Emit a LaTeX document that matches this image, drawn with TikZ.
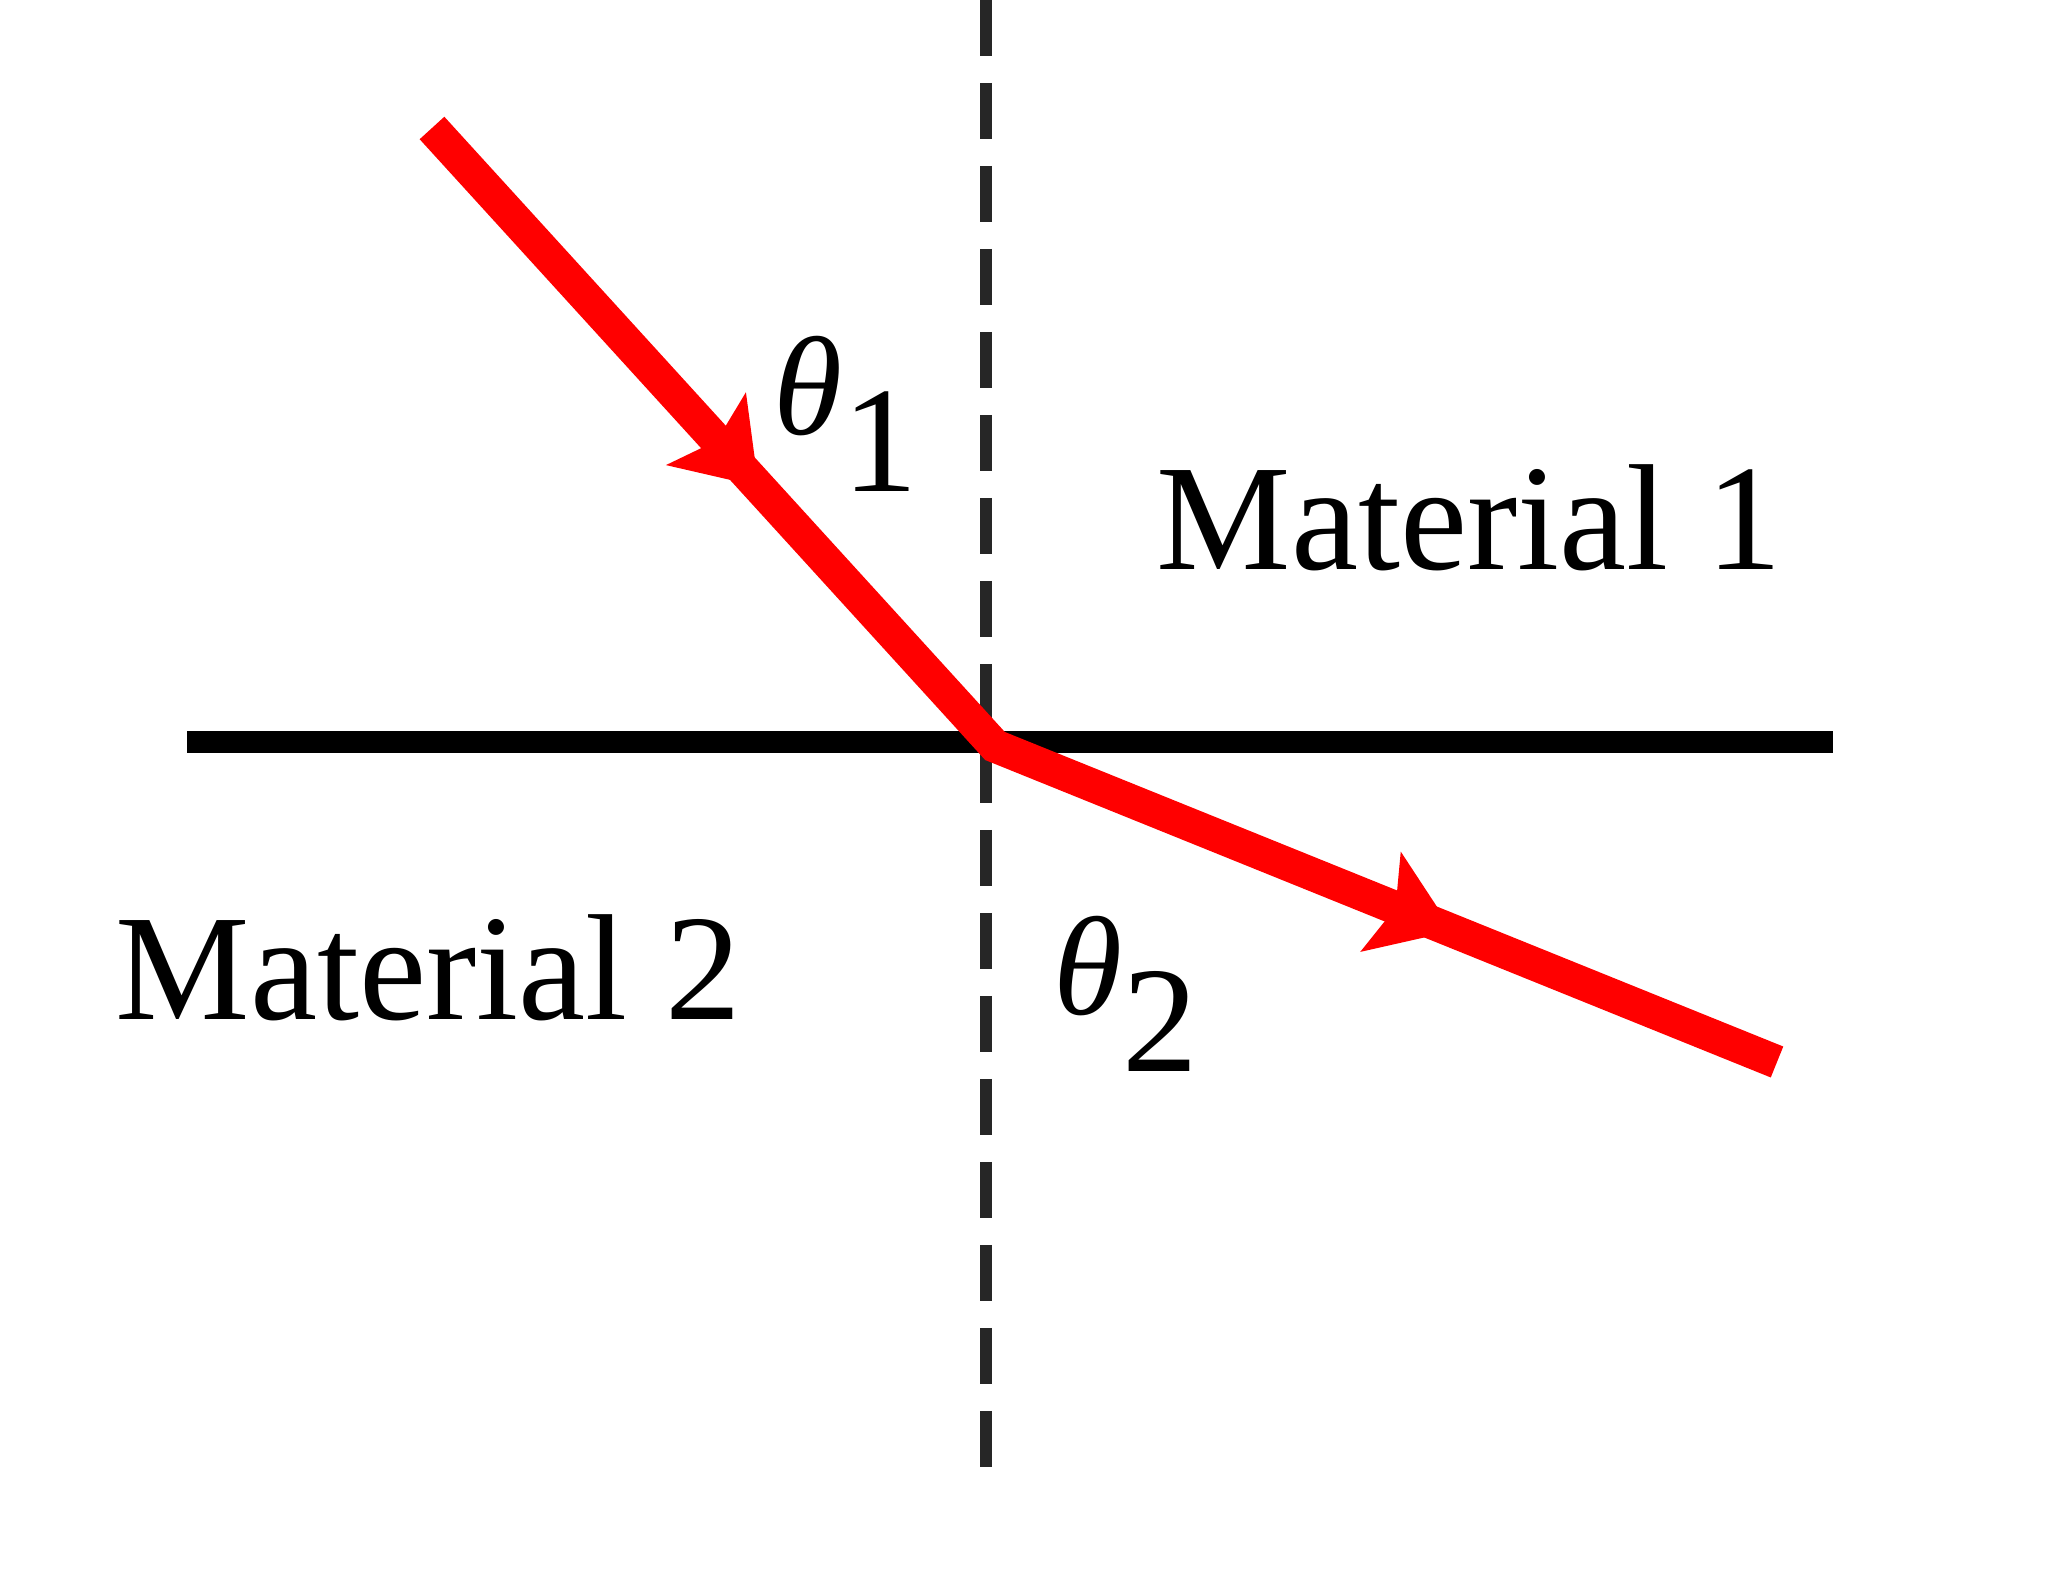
\documentclass[tikz,border=0pt]{standalone}
\usepackage{fontspec}
\setmainfont{Liberation Serif}
\usepackage{xcolor}
\usetikzlibrary{arrows.meta, decorations.markings}
\tikzset{
    interface/.style={line width=6pt, black},
    normalline/.style={line width=3.4pt, black!85, dash pattern=on 5.6mm off 2.7mm},
    lightray/.style={line width=9.5pt, red, line join=miter,
        postaction={decorate, decoration={markings,
            mark=at position 4.85cm with {\arrow{Stealth[length=7.7mm, width=10.5mm, inset=1.5mm]}},
            mark=at position 13.3cm with {\arrow{Stealth[length=7.7mm, width=10.5mm, inset=1.5mm]}}}}},
    label/.style={inner sep=0pt, anchor=base west, font=\fontsize{43}{50}\selectfont}
}
\newcommand{\angsub}[1]{{\fontsize{40}{48}\selectfont\textit{θ}}\raisebox{-16pt}{#1}}

\begin{document}
\begin{tikzpicture}
    \useasboundingbox (0,0) rectangle (20.46,15.73);
    % interface and normal
    \coordinate (ifl) at (1.87,8.31);
    \coordinate (ifr) at (18.33,8.31);
    \coordinate (nt) at (9.86,15.73);
    \coordinate (nb) at (9.86,1.06);
    \draw[interface] (ifl) -- (ifr);
    \draw[normalline] (nt) -- (nb);

    % incident and refracted ray
    \coordinate (src) at (4.32,14.45);
    \coordinate (hit) at (9.95,8.27);
    \coordinate (out) at (17.77,5.11);
    \draw[lightray] (src) -- (hit) -- (out);

    \node (mat1) [label] at (11.56,10.03) {Material 1};
    \node (mat2) [label] at (1.15,5.53) {Material 2};
    \node (th1) [label] at (7.73,11.38) {\angsub{1}};
    \node (th2) [label] at (10.53,5.58) {\angsub{2}};
\end{tikzpicture}
\end{document}
